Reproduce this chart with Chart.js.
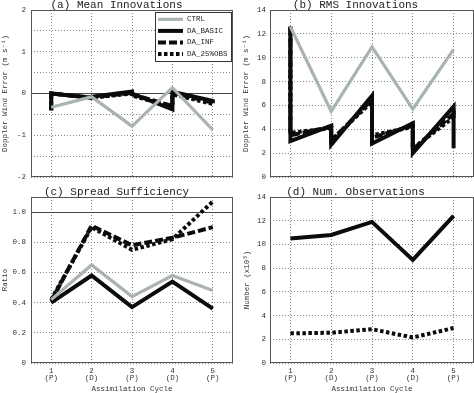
<!DOCTYPE html>
<html>
<head>
<meta charset="utf-8">
<script src="https://cdn.jsdelivr.net/npm/chart.js@4"></script>
<style>
  body { margin: 0; background: #fff; }
  #wrap { position: relative; width: 474px; height: 393px; overflow: hidden; }
  canvas { position: absolute; }
</style>
</head>
<body>
<div id="wrap">
  <canvas id="chartA" width="237" height="190" style="left:0;top:0"></canvas>
  <canvas id="chartB" width="237" height="190" style="left:237px;top:0"></canvas>
  <canvas id="chartC" width="237" height="206" style="left:0;top:187px"></canvas>
  <canvas id="chartD" width="237" height="206" style="left:237px;top:187px"></canvas>
</div>
<script>
// ================= DATA =================
const cycles = [1, 2, 3, 4, 5];
const phases = ['(P)', '(D)', '(P)', '(D)', '(P)'];

// (a) mean innovations, prior then posterior per cycle
const meanCtrl       = [-0.33, -0.08, -0.78, 0.14, -0.87];
const meanBasicPrior = [-0.40, -0.10, 0.05, -0.38, -0.18];
const meanBasicPost  = [0.00, -0.08, 0.00, 0.04, -0.14];
const meanInfPrior   = [-0.40, -0.10, 0.02, -0.30, -0.22];
const meanInfPost    = [0.00, -0.10, -0.02, 0.02, -0.18];
const mean25Prior    = [-0.40, -0.10, 0.00, -0.32, -0.25];
const mean25Post     = [0.00, -0.10, -0.05, -0.02, -0.20];

// (b) rms innovations
const rmsCtrl       = [12.6, 5.5, 10.9, 5.7, 10.7];
const rmsBasicPrior = [12.6, 4.3, 6.8, 4.5, 5.9];
const rmsBasicPost  = [3.0, 2.7, 2.8, 2.0, 2.4];
const rmsInfPrior   = [12.6, 4.2, 6.5, 4.3, 5.3];
const rmsInfPost    = [3.5, 3.0, 3.3, 2.3, 5.0];
const rms25Prior    = [12.6, 4.1, 6.3, 4.2, 5.0];
const rms25Post     = [3.7, 3.1, 3.5, 2.4, 4.8];

// (c) spread sufficiency
const ratioCtrl  = [0.42, 0.65, 0.44, 0.58, 0.48];
const ratioBasic = [0.40, 0.58, 0.37, 0.54, 0.36];
const ratioInf   = [0.41, 0.91, 0.78, 0.83, 0.90];
const ratio25    = [0.42, 0.90, 0.75, 0.82, 1.07];

// (d) number of observations (x10^3)
const obsAll = [10.5, 10.8, 11.9, 8.7, 12.4];
const obs25  = [2.5, 2.55, 2.85, 2.15, 2.95];

// ================= STYLE =================
const MONO = '"Liberation Mono", "DejaVu Sans Mono", monospace';
Chart.defaults.font.family = MONO;

const styles = {
    'CTRL':      { borderColor: '#a9b4b2', borderWidth: 3.2, borderDash: [] },
    'DA_BASIC':  { borderColor: '#0b0b0b', borderWidth: 4, borderDash: [] },
    'DA_INF':    { borderColor: '#0b0b0b', borderWidth: 4, borderDash: [8, 3] },
    'DA_25%OBS': { borderColor: '#0b0b0b', borderWidth: 4, borderDash: [3.5, 2.5] }
};

// ================= HELPER =================
function simple(vals) {
    return cycles.map((c, i) => ({ x: c, y: vals[i] }));
}

function sawtooth(prior, post) {
    return cycles.flatMap((c, i) => [{ x: c, y: prior[i] }, { x: c, y: post[i] }]);
}

function ds(name, data) {
    return Object.assign({ label: name, data: data, pointRadius: 0, fill: false, tension: 0,
        borderCapStyle: 'butt', borderJoinStyle: 'miter' }, styles[name]);
}

const framePlugin = {
    id: 'frame',
    beforeDatasetsDraw(chart) {
        const { ctx, chartArea: a } = chart;
        ctx.save();
        ctx.strokeStyle = '#555';
        ctx.lineWidth = 1;
        ctx.strokeRect(a.left + 0.5, a.top + 0.5, a.width - 1, a.height - 1);
        ctx.restore();
    }
};

const legendBoxPlugin = {
    id: 'legendBox',
    afterDatasetsDraw(chart, args, opts) {
        if (!opts.show) return;
        const { ctx, chartArea: a } = chart;
        const w = 77, h = 50;
        const x0 = a.right - w - 1, y0 = a.top + 2;
        ctx.save();
        ctx.fillStyle = '#fff';
        ctx.fillRect(x0, y0, w, h);
        ctx.strokeStyle = '#333';
        ctx.lineWidth = 1;
        ctx.strokeRect(x0 + 0.5, y0 + 0.5, w - 1, h - 1);
        chart.data.datasets.forEach((d, i) => {
            const y = y0 + 7.3 + i * 11.6;
            ctx.beginPath();
            ctx.setLineDash(d.borderDash || []);
            ctx.lineWidth = d.borderWidth;
            ctx.strokeStyle = d.borderColor;
            ctx.moveTo(x0 + 3, y);
            ctx.lineTo(x0 + 28, y);
            ctx.stroke();
            ctx.setLineDash([]);
            ctx.fillStyle = '#222';
            ctx.font = '7.5px ' + MONO;
            ctx.textBaseline = 'middle';
            ctx.fillText(d.label, x0 + 32, y);
        });
        ctx.restore();
    }
};

function makePanel(id, cfg) {
    const isRef = v => cfg.refLine !== null && Math.abs(v - cfg.refLine) < 1e-6;
    return new Chart(document.getElementById(id), {
        type: 'line',
        data: { datasets: cfg.datasets },
        options: {
            responsive: false,
            animation: false,
            devicePixelRatio: 1,
            layout: { padding: { top: 0, right: cfg.padRight, left: 0, bottom: 0 } },
            plugins: {
                legend: { display: false },
                tooltip: { enabled: false },
                title: {
                    display: true,
                    text: cfg.title,
                    color: '#222',
                    font: { family: MONO, size: 11, weight: 'normal', lineHeight: 0.91 },
                    padding: { top: 0, bottom: 0 }
                },
                legendBox: { show: !!cfg.legend }
            },
            scales: {
                x: {
                    type: 'linear',
                    min: 0.5,
                    max: 5.5,
                    afterBuildTicks: s => { s.ticks = cycles.map(v => ({ value: v })); },
                    afterFit: s => { s.height = cfg.xHeight; },
                    grid: { color: '#888', lineWidth: 1, drawTicks: false },
                    border: { display: false, dash: [1, 2] },
                    ticks: {
                        display: cfg.xLabels,
                        padding: 4,
                        color: '#333',
                        font: { size: 7.5, lineHeight: 0.95 },
                        callback: v => [String(v), phases[v - 1]]
                    },
                    title: {
                        display: cfg.xLabels,
                        text: 'Assimilation Cycle',
                        color: '#333',
                        font: { size: 7.5, lineHeight: 1 },
                        padding: { top: 0, bottom: 0 }
                    }
                },
                y: {
                    min: cfg.yMin,
                    max: cfg.yMax,
                    afterFit: s => { s.width = cfg.yWidth; },
                    grid: {
                        drawTicks: false,
                        lineWidth: 1,
                        color: c => isRef(c.tick.value) ? '#444' : '#888'
                    },
                    border: {
                        display: false,
                        dash: c => (c.tick && isRef(c.tick.value)) ? [] : [1, 2]
                    },
                    ticks: {
                        stepSize: cfg.yStep,
                        includeBounds: false,
                        padding: cfg.yPad,
                        color: '#333',
                        font: { size: 7.5 },
                        callback: cfg.yFormat
                    },
                    title: {
                        display: true,
                        text: cfg.yTitle,
                        color: '#333',
                        font: { size: 7.5, lineHeight: 1.2 },
                        padding: { top: cfg.yTitlePad, bottom: 0 }
                    }
                }
            }
        },
        plugins: [framePlugin, legendBoxPlugin]
    });
}

// ================= PANELS =================
makePanel('chartA', {
    title: '(a) Mean Innovations',
    datasets: [
        ds('CTRL', simple(meanCtrl)),
        ds('DA_BASIC', sawtooth(meanBasicPrior, meanBasicPost)),
        ds('DA_INF', sawtooth(meanInfPrior, meanInfPost)),
        ds('DA_25%OBS', sawtooth(mean25Prior, mean25Post))
    ],
    legend: true,
    padRight: 4, xHeight: 13, xLabels: false,
    yMin: -2, yMax: 2, yStep: 0.5, yWidth: 31, yPad: 5, yTitlePad: 0.5,
    yTitle: 'Doppler Wind Error (m s⁻¹)',
    yFormat: v => Number.isInteger(v) ? String(v) : '',
    refLine: 0
});

makePanel('chartB', {
    title: '(b) RMS Innovations',
    datasets: [
        ds('CTRL', simple(rmsCtrl)),
        ds('DA_BASIC', sawtooth(rmsBasicPrior, rmsBasicPost)),
        ds('DA_INF', sawtooth(rmsInfPrior, rmsInfPost)),
        ds('DA_25%OBS', sawtooth(rms25Prior, rms25Post))
    ],
    padRight: 0, xHeight: 13, xLabels: false,
    yMin: 0, yMax: 14, yStep: 2, yWidth: 33, yPad: 4, yTitlePad: 4.5,
    yTitle: 'Doppler Wind Error (m s⁻¹)',
    yFormat: v => String(v),
    refLine: null
});

makePanel('chartC', {
    title: '(c) Spread Sufficiency',
    datasets: [
        ds('CTRL', simple(ratioCtrl)),
        ds('DA_BASIC', simple(ratioBasic)),
        ds('DA_INF', simple(ratioInf)),
        ds('DA_25%OBS', simple(ratio25))
    ],
    padRight: 4, xHeight: 30, xLabels: true,
    yMin: 0, yMax: 1.1, yStep: 0.2, yWidth: 31, yPad: 5, yTitlePad: 0.5,
    yTitle: 'Ratio',
    yFormat: v => v === 0 ? '0' : v.toFixed(1),
    refLine: 1
});

makePanel('chartD', {
    title: '(d) Num. Observations',
    datasets: [
        ds('DA_BASIC', simple(obsAll)),
        ds('DA_25%OBS', simple(obs25))
    ],
    padRight: 0, xHeight: 30, xLabels: true,
    yMin: 0, yMax: 14, yStep: 2, yWidth: 33, yPad: 4, yTitlePad: 5.5,
    yTitle: 'Number (x10³)',
    yFormat: v => String(v),
    refLine: null
});
</script>
</body>
</html>
